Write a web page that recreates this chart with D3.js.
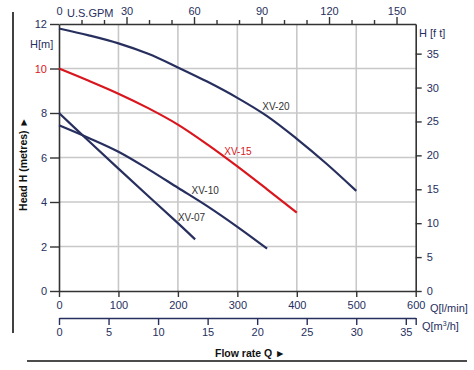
<!DOCTYPE html>
<html>
<head>
<meta charset="utf-8">
<script src="https://cdn.jsdelivr.net/npm/d3@7"></script>
<style>
  body { margin: 0; background: #fff; }
  svg { font-family: "Liberation Sans", Arial, sans-serif; }
</style>
</head>
<body>
<script>
(function () {
  "use strict";
  var w = 474,
      h = 370;

  // flow rate Q in l/min, head H in metres
  var flow20 = [0, 50, 100, 150, 200, 250, 300, 350, 400, 450, 500];
  var head20 = [11.8, 11.49, 11.13, 10.66, 10.05, 9.4, 8.68, 7.86, 6.84, 5.72, 4.5];
  var flow15 = [0, 50, 100, 150, 200, 250, 300, 350, 400];
  var head15 = [10.0, 9.45, 8.87, 8.22, 7.48, 6.58, 5.6, 4.57, 3.52];
  var flow10 = [0, 50, 100, 150, 200, 250, 300, 350];
  var head10 = [7.45, 6.88, 6.26, 5.48, 4.64, 3.8, 2.88, 1.9];
  var flow07 = [0, 50, 100, 150, 200, 229];
  var head07 = [8.0, 6.74, 5.5, 4.27, 3.05, 2.32];

  var seriesNames = ["XV-20", "XV-15", "XV-10", "XV-07"];

  var headTicks = [0, 2, 4, 6, 8, 10, 12];
  var flowTicks = [0, 100, 200, 300, 400, 500, 600];
  var gpmTicks = [0, 30, 60, 90, 120, 150];
  var gpmMinor = [10, 20, 40, 50, 70, 80, 100, 110, 130, 140];
  var ftTicks = [0, 5, 10, 15, 20, 25, 30, 35];
  var m3hTicks = [0, 5, 10, 15, 20, 25, 30, 35, 36];

  var navy = "#272f5e",
      red = "#d9161e",
      grid = "#c8c8c8",
      axisCol = "#333";

  var x0 = 59, x1 = 415.7, y0 = 291, y1 = 24;

  var x = d3.scaleLinear().domain([0, 600]).range([x0, x1]);
  var y = d3.scaleLinear().domain([0, 12]).range([y0, y1]);
  var xg = d3.scaleLinear().domain([0, 600 / 3.785]).range([x0, x1]);
  var yf = d3.scaleLinear().domain([0, 12 / 0.3048]).range([y0, y1]);
  var xm = d3.scaleLinear().domain([0, 36]).range([x0, x1]);

  var svg = d3.select("body")
              .append("svg")
              .attr("width", w)
              .attr("height", h);

  // grid
  svg.selectAll("line.vg")
     .data(flowTicks.slice(1, -1))
     .enter()
     .append("line")
     .attr("x1", d => x(d)).attr("x2", d => x(d))
     .attr("y1", y1).attr("y2", y0)
     .attr("stroke", grid).attr("stroke-width", 1.6);
  svg.selectAll("line.hg")
     .data(headTicks.slice(1, -1))
     .enter()
     .append("line")
     .attr("x1", x0).attr("x2", x1)
     .attr("y1", d => y(d)).attr("y2", d => y(d))
     .attr("stroke", grid).attr("stroke-width", 1.6);

  function styleAxis(g, col) {
    g.select(".domain").attr("stroke", axisCol).attr("stroke-width", 1.6);
    g.selectAll(".tick line").attr("stroke", axisCol).attr("stroke-width", 1.4);
    g.selectAll(".tick text").attr("fill", col || navy).style("font-size", "11px");
  }

  // left metres axis
  var gl = svg.append("g").attr("transform", "translate(" + x0 + ",0)")
              .call(d3.axisLeft(y).tickValues(headTicks).tickSize(9).tickPadding(3).tickSizeOuter(0));
  styleAxis(gl);
  gl.selectAll(".tick text").filter(d => d === 10).attr("fill", red);

  // right feet axis
  var gr = svg.append("g").attr("transform", "translate(" + x1 + ",0)")
              .call(d3.axisRight(yf).tickValues(ftTicks).tickSize(6).tickPadding(5).tickSizeOuter(0));
  styleAxis(gr);

  // bottom l/min axis
  var gb = svg.append("g").attr("transform", "translate(0," + y0 + ")")
              .call(d3.axisBottom(x).tickValues(flowTicks).tickSize(6).tickPadding(4).tickSizeOuter(0));
  styleAxis(gb);

  // top GPM axis
  var gt = svg.append("g").attr("transform", "translate(0," + y1 + ")")
              .call(d3.axisTop(xg).tickValues(gpmTicks).tickSize(7).tickPadding(2).tickSizeOuter(0));
  styleAxis(gt);
  gt.selectAll(".tick").filter(d => d === 0).select("line").attr("y2", 0);
  var gtm = svg.append("g").attr("transform", "translate(0," + y1 + ")")
               .call(d3.axisTop(xg).tickValues(gpmMinor).tickSize(4).tickFormat("").tickSizeOuter(0));
  styleAxis(gtm);
  gtm.select(".domain").remove();

  // second bottom m3/h axis
  var gm = svg.append("g").attr("transform", "translate(0,318)")
              .call(d3.axisBottom(xm).tickValues(m3hTicks).tickSize(7).tickPadding(3)
                      .tickFormat(d => d === 36 ? "" : d).tickSizeOuter(0));
  styleAxis(gm);
  gm.select(".domain").attr("stroke", navy);
  gm.selectAll(".tick line").attr("stroke", navy);

  // curves
  var line = d3.line()
               .x(d => x(d[0]))
               .y(d => y(d[1]))
               .curve(d3.curveCatmullRom.alpha(0.5));
  var curves = [
    { name: seriesNames[0], data: d3.zip(flow20, head20), col: navy },
    { name: seriesNames[1], data: d3.zip(flow15, head15), col: red },
    { name: seriesNames[2], data: d3.zip(flow10, head10), col: navy },
    { name: seriesNames[3], data: d3.zip(flow07, head07), col: navy }
  ];
  svg.selectAll("path.curve")
     .data(curves)
     .enter()
     .append("path")
     .attr("d", d => line(d.data))
     .attr("fill", "none")
     .attr("stroke", d => d.col)
     .attr("stroke-width", 2.2);

  // curve labels, anchored in data coordinates
  var labelAt = [[342, 8.12], [278, 6.1], [223, 4.35], [200, 3.15]];
  svg.selectAll("text.lab")
     .data(curves)
     .enter()
     .append("text")
     .attr("x", (d, i) => x(labelAt[i][0]))
     .attr("y", (d, i) => y(labelAt[i][1]))
     .attr("fill", d => d.col === red ? red : "#333")
     .style("font-size", "10px")
     .text(d => d.name);

  // unit labels
  function txt(tx, ty, s, opts) {
    opts = opts || {};
    return svg.append("text")
              .attr("x", tx).attr("y", ty)
              .attr("fill", opts.fill || navy)
              .attr("text-anchor", opts.anchor || "start")
              .style("font-size", (opts.size || 11) + "px")
              .style("font-weight", opts.bold ? "bold" : "normal")
              .text(s);
  }
  txt(67, 17, "U.S.GPM");
  txt(30, 48, "H[m]");
  txt(419, 37, "H [f t]");
  txt(430, 312, "Q[l/min]");
  var qm = txt(422, 330, "Q[m");
  qm.append("tspan").attr("dy", -4).style("font-size", "7px").text("3");
  qm.append("tspan").attr("dy", 4).text("/h]");

  txt(215, 357, "Flow rate Q  \u25BA", { fill: "#111", bold: true, size: 10.5 });
  svg.append("text")
     .attr("transform", "translate(27,164) rotate(-90)")
     .attr("text-anchor", "middle")
     .attr("fill", "#111")
     .style("font-size", "10.5px")
     .style("font-weight", "bold")
     .text("Head H (metres)  \u25BA");

  // frame lines
  svg.append("line").attr("x1", 13).attr("x2", 13).attr("y1", 12).attr("y2", 333)
     .attr("stroke", "#111").attr("stroke-width", 1.6);
  svg.append("line").attr("x1", 27).attr("x2", 467).attr("y1", 361).attr("y2", 361)
     .attr("stroke", "#111").attr("stroke-width", 1.6);
})();
</script>
</body>
</html>
